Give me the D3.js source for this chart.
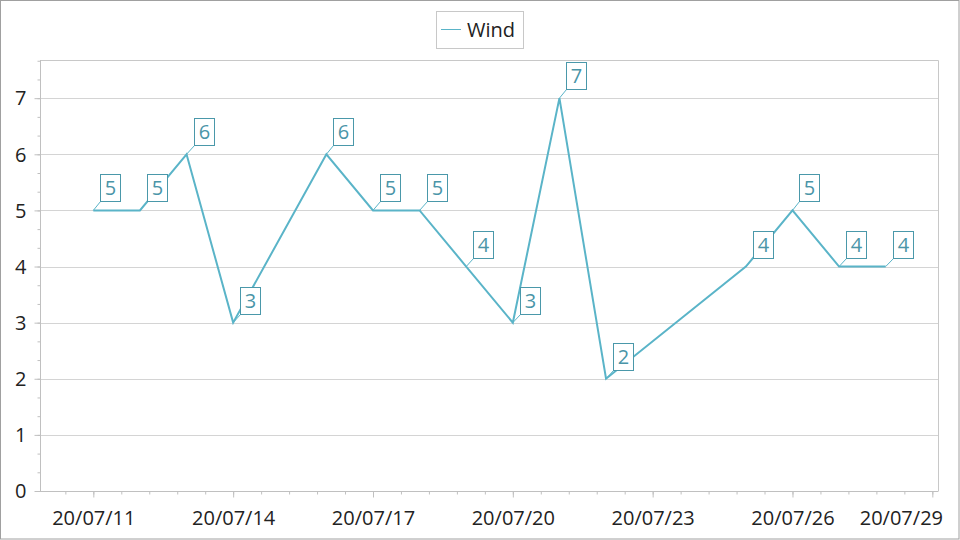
<!DOCTYPE html>
<html>
<head>
<meta charset="utf-8">
<script src="https://cdn.jsdelivr.net/npm/d3@7"></script>
<style>
  html, body { margin: 0; padding: 0; background: #fff; }
  svg { display: block; font-family: "Open Sans", "Noto Sans", sans-serif; }
</style>
</head>
<body>
<svg id="chart" width="960" height="540"></svg>
<script>
// ---- data ----
const seriesName = "Wind";
const days   = [11, 12, 13, 14, 16, 17, 18, 19, 20, 21, 22, 25, 26, 27, 28];
const values = [5, 5, 6, 3, 6, 5, 5, 4, 3, 7, 2, 4, 5, 4, 4];
const xTickDays = [11, 14, 17, 20, 23, 26, 29];
const yTicks = [0, 1, 2, 3, 4, 5, 6, 7];
const xDomainDays = [9.856, 29.122];
const yDomain = [0, 7.68];

const toDate = d => new Date(2020, 6, Math.floor(d), 0, 0, 0, Math.round((d - Math.floor(d)) * 86400000));
const fmt = d3.timeFormat("%y/%m/%d");

const W = 960, H = 540;
const m = { left: 40, top: 60, right: 938, bottom: 491 };

const svg = d3.select("#chart");

// outer border
svg.append("rect").attr("x", 0.5).attr("y", 0.5).attr("width", W - 1.5).attr("height", H - 1.5)
  .attr("fill", "#fff").attr("stroke", "#a0a0a0").attr("stroke-width", 1);

const x = d3.scaleTime().domain(xDomainDays.map(toDate)).range([m.left, m.right]);
const y = d3.scaleLinear().domain(yDomain).range([m.bottom, m.top]);

// gridlines
svg.append("g").selectAll("line").data(yTicks.filter(v => v > 0)).join("line")
  .attr("x1", m.left).attr("x2", m.right)
  .attr("y1", d => Math.round(y(d)) + 0.5).attr("y2", d => Math.round(y(d)) + 0.5)
  .attr("stroke", "#d4d4d4");

// plot frame top/right
svg.append("path")
  .attr("d", `M${m.left},${m.top + 0.5}H${m.right + 0.5}V${m.bottom}`)
  .attr("fill", "none").attr("stroke", "#c8c8c8");

// y minor ticks
const yMinor = d3.range(0, yDomain[1], 1 / 3);
const gyMinor = svg.append("g").attr("transform", `translate(${m.left + 0.5},0)`)
  .call(d3.axisLeft(y).tickValues(yMinor).tickSize(3).tickFormat(""));
gyMinor.select(".domain").remove();
gyMinor.selectAll("line").attr("stroke", "#c0c0c0");

// y axis major
const gy = svg.append("g").attr("transform", `translate(${m.left + 0.5},0)`)
  .call(d3.axisLeft(y).tickValues(yTicks).tickSize(6).tickPadding(8).tickFormat(d3.format("d")));
gy.select(".domain").attr("stroke", "#c0c0c0").attr("d", `M0,${m.top}V${m.bottom + 0.5}`);
gy.selectAll("line").attr("stroke", "#c0c0c0");
gy.selectAll("text").attr("font-size", 20).attr("fill", "#222").attr("font-family", "Open Sans").attr("dy", "0.34em");

// x minor ticks
const xMinorDays = d3.range(11 - 0.6 * 2, xDomainDays[1], 0.6).filter(d => d >= xDomainDays[0]);
const gxMinor = svg.append("g").attr("transform", `translate(0,${m.bottom + 0.5})`)
  .call(d3.axisBottom(x).tickValues(xMinorDays.map(toDate)).tickSize(3).tickFormat(""));
gxMinor.select(".domain").remove();
gxMinor.selectAll("line").attr("stroke", "#c0c0c0");

// x axis major
const gx = svg.append("g").attr("transform", `translate(0,${m.bottom + 0.5})`)
  .call(d3.axisBottom(x).tickValues(xTickDays.map(toDate)).tickSize(6).tickPadding(8).tickFormat(fmt));
gx.select(".domain").attr("stroke", "#c0c0c0").attr("d", `M${m.left},0H${m.right + 0.5}`);
gx.selectAll("line").attr("stroke", "#c0c0c0");
gx.selectAll("text").attr("font-size", 20).attr("fill", "#222").attr("font-family", "Open Sans").attr("dy", "0.95em");
// keep last label inside chart
gx.selectAll(".tick").each(function () {
  const t = d3.select(this).select("text");
  const bb = t.node().getBBox();
  const tr = d3.select(this).attr("transform");
  const tx = +tr.match(/translate\(([-\d.]+)/)[1];
  const over = tx + bb.x + bb.width - (W - 17);
  if (over > 0) t.attr("x", -over);
});

// line
const pts = days.map((d, i) => ({ d, v: values[i] }));
const line = d3.line().x(p => x(toDate(p.d))).y(p => y(p.v));
svg.append("path").datum(pts).attr("d", line)
  .attr("fill", "none").attr("stroke", "#5ab4c8").attr("stroke-width", 2).attr("stroke-linejoin", "miter");

// labels
const lbl = svg.append("g");
pts.forEach(p => {
  const px = x(toDate(p.d)), py = y(p.v);
  const bx = Math.round(px + 7) + 0.5, by = Math.round(py - 9) + 0.5;
  const g = lbl.append("g");
  g.append("line").attr("x1", px).attr("y1", py).attr("x2", bx).attr("y2", by)
    .attr("stroke", "#5ab4c8").attr("stroke-width", 1);
  const t = g.append("text").text(p.v).attr("font-size", 20).attr("fill", "#4a95a8")
    .attr("text-anchor", "middle");
  const tw = t.node().getComputedTextLength();
  const bw = Math.round(tw + 9), bh = 27;
  g.insert("rect", "text").attr("x", bx).attr("y", by - bh).attr("width", bw).attr("height", bh)
    .attr("fill", "#fff").attr("stroke", "#4a98aa").attr("stroke-width", 1);
  t.attr("x", bx + bw / 2).attr("y", by - bh / 2).attr("dy", "0.36em");
});

// legend
const lg = svg.append("g");
lg.append("rect").attr("x", 436.5).attr("y", 11.5).attr("width", 87).attr("height", 37)
  .attr("fill", "#fff").attr("stroke", "#c8c8c8");
lg.append("line").attr("x1", 441).attr("x2", 461).attr("y1", 29.5).attr("y2", 29.5)
  .attr("stroke", "#5ab4c8").attr("stroke-width", 1);
lg.append("text").attr("x", 467).attr("y", 30).attr("dy", "0.35em").attr("font-size", 20)
  .attr("fill", "#222").text(seriesName);
</script>
</body>
</html>
